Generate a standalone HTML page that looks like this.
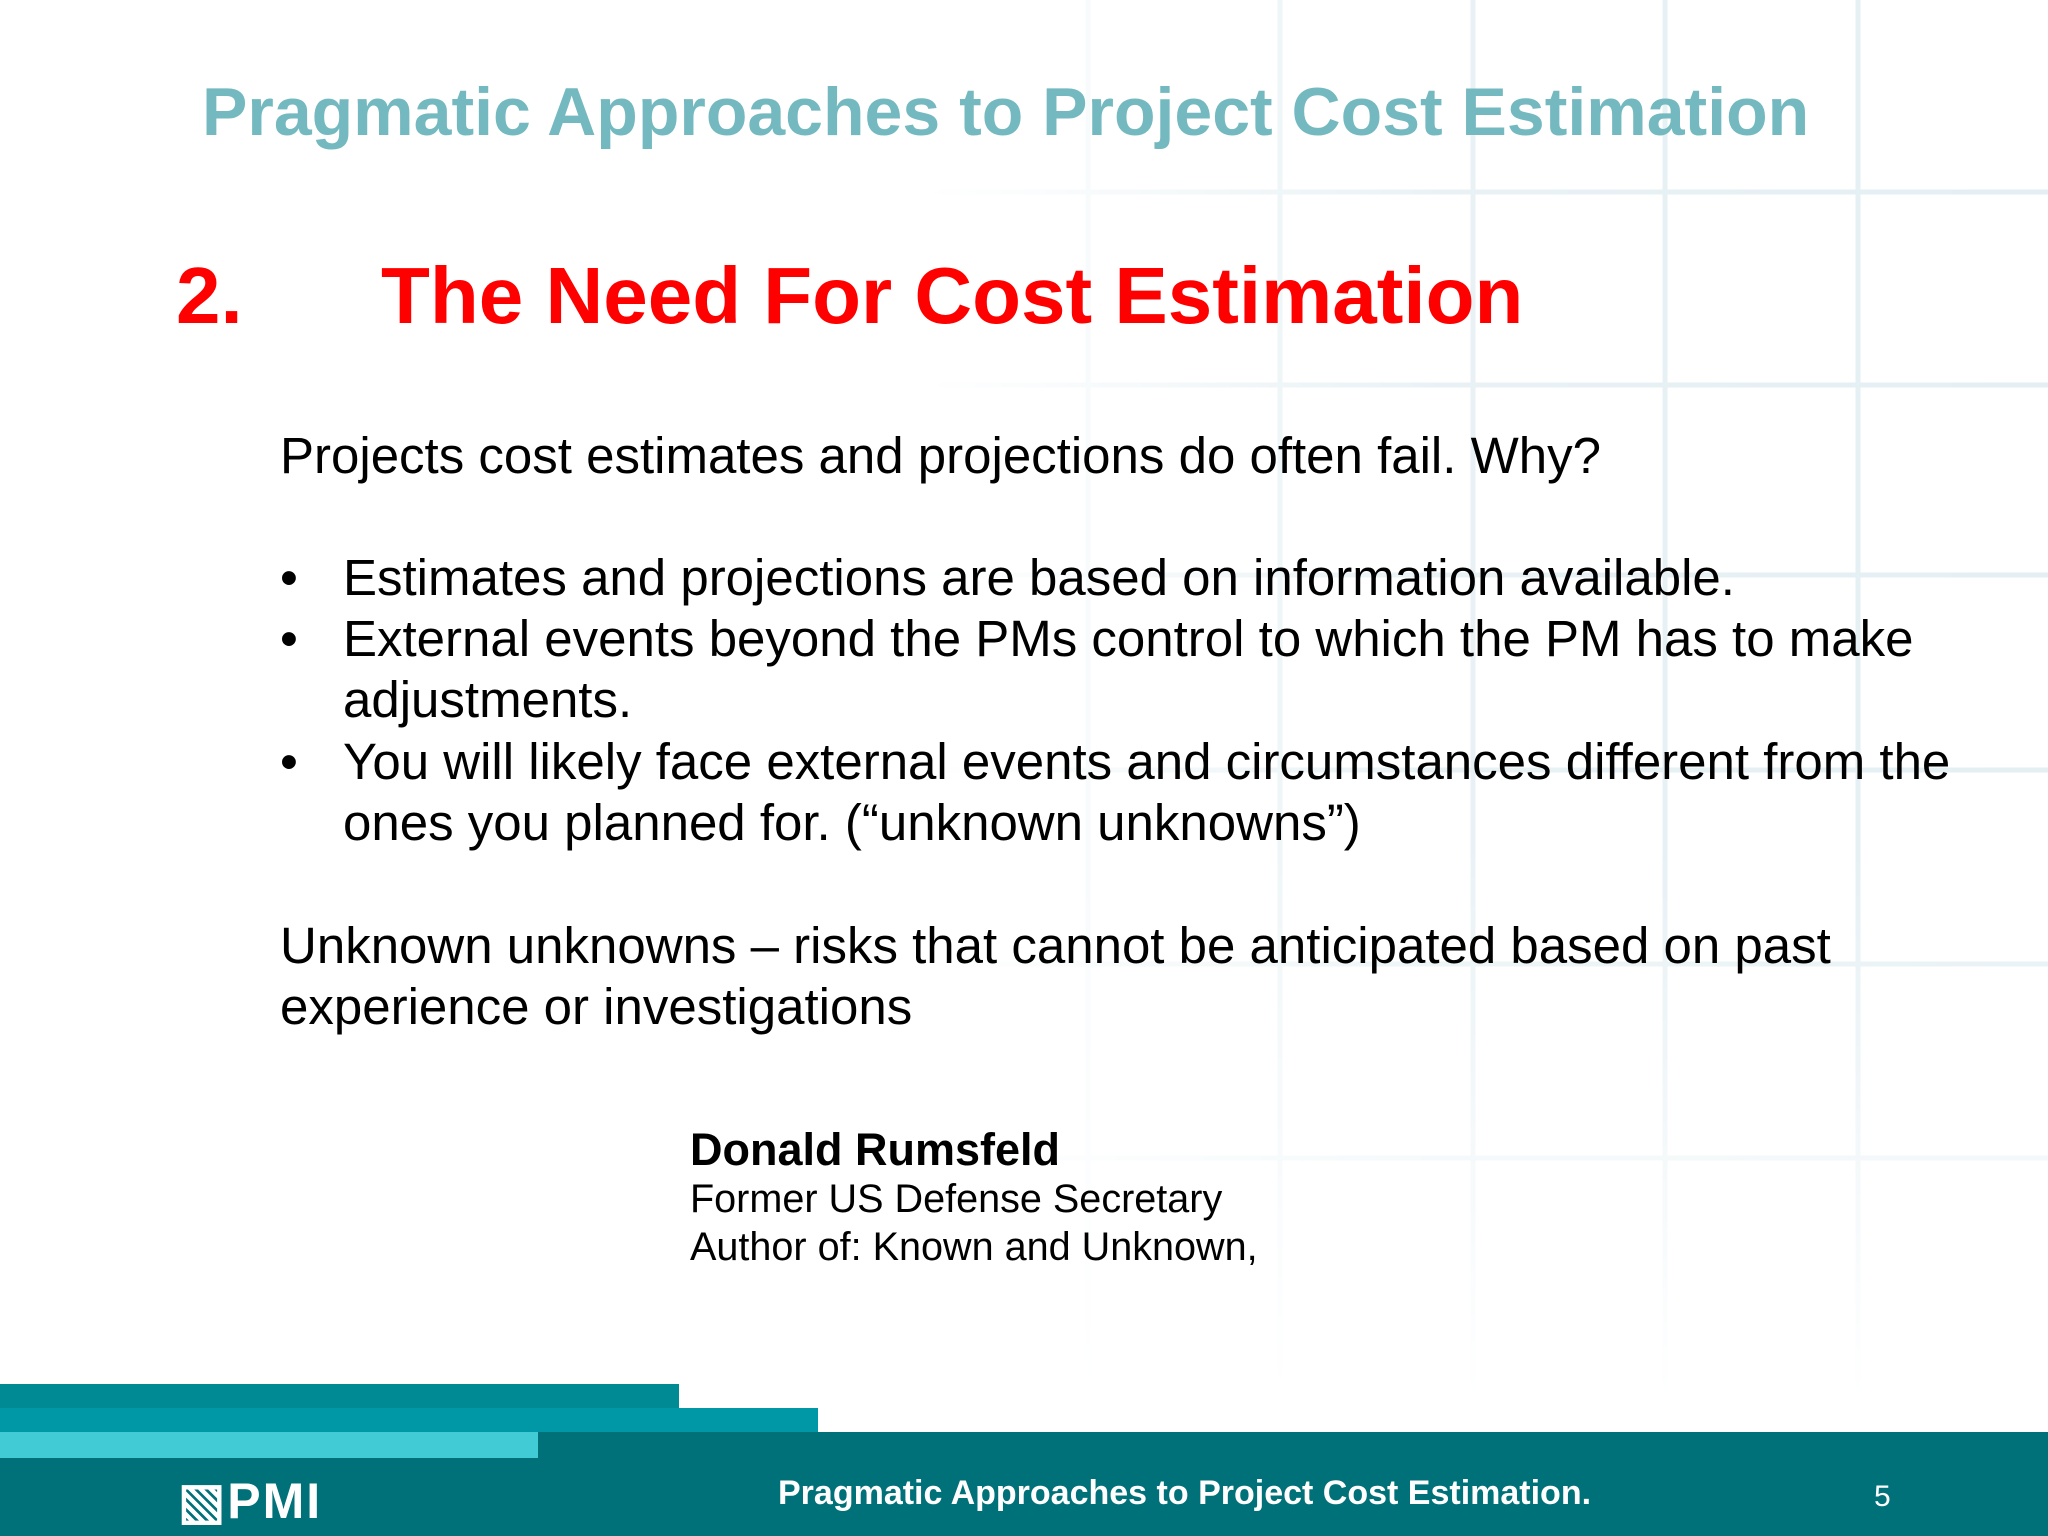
<!DOCTYPE html>
<html><head><meta charset="utf-8"><style>
html,body{margin:0;padding:0}
body{width:2048px;height:1536px;position:relative;overflow:hidden;background:#fff;font-family:"Liberation Sans",Arial,sans-serif}
.t{position:absolute;white-space:nowrap;line-height:1}
</style></head><body>
<svg style="position:absolute;left:0;top:0" width="2048" height="1400">
<defs><linearGradient id="fade" x1="0" x2="1" y1="0" y2="0">
<stop offset="0" stop-color="#fff" stop-opacity="1"/><stop offset="0.45" stop-color="#fff" stop-opacity="1"/><stop offset="0.7" stop-color="#fff" stop-opacity="0.2"/><stop offset="1" stop-color="#fff" stop-opacity="0"/></linearGradient>
<linearGradient id="vfade" x1="0" x2="0" y1="0" y2="1"><stop offset="0.6" stop-color="#fff" stop-opacity="0"/><stop offset="1" stop-color="#fff" stop-opacity="1"/></linearGradient></defs>
<g stroke="#e3eff3" stroke-width="5">
<line x1="896" y1="0" x2="896" y2="1400"/><line x1="1088" y1="0" x2="1088" y2="1400"/><line x1="1280" y1="0" x2="1280" y2="1400"/><line x1="1473" y1="0" x2="1473" y2="1400"/><line x1="1665" y1="0" x2="1665" y2="1400"/><line x1="1858" y1="0" x2="1858" y2="1400"/>
<line x1="0" y1="192" x2="2048" y2="192"/><line x1="0" y1="385" x2="2048" y2="385"/><line x1="0" y1="575" x2="2048" y2="575"/><line x1="0" y1="770" x2="2048" y2="770"/><line x1="0" y1="964" x2="2048" y2="964"/><line x1="0" y1="1158" x2="2048" y2="1158"/>
</g>
<rect width="2048" height="1400" fill="url(#fade)"/>
<rect width="2048" height="1400" fill="url(#vfade)"/>
</svg>
<div class="t" style="left:202px;top:78px;font-size:68px;font-weight:bold;color:#74b9c0">Pragmatic Approaches to Project Cost Estimation</div>
<div class="t" style="left:176px;top:256px;font-size:80px;font-weight:bold;color:#f00">2.</div>
<div class="t" style="left:381px;top:256px;font-size:80px;font-weight:bold;color:#f00">The Need For Cost Estimation</div>
<div style="position:absolute;left:280px;top:0;font-size:51px;color:#000">
<div class="t" style="top:430px;left:0">Projects cost estimates and projections do often fail. Why?</div>
<div class="t" style="top:552px;left:0">•</div><div class="t" style="top:552px;left:63px">Estimates and projections are based on information available.</div>
<div class="t" style="top:613px;left:0">•</div><div class="t" style="top:613px;left:63px">External events beyond the PMs control to which the PM has to make</div>
<div class="t" style="top:674px;left:63px">adjustments.</div>
<div class="t" style="top:736px;left:0">•</div><div class="t" style="top:736px;left:63px">You will likely face external events and circumstances different from the</div>
<div class="t" style="top:797px;left:63px">ones you planned for. (“unknown unknowns”)</div>
<div class="t" style="top:920px;left:0">Unknown unknowns – risks that cannot be anticipated based on past</div>
<div class="t" style="top:981px;left:0">experience or investigations</div>
</div>
<div class="t" style="left:690px;top:1127px;font-size:45px;font-weight:bold">Donald Rumsfeld</div>
<div class="t" style="left:690px;top:1180px;font-size:39.6px">Former US Defense Secretary</div>
<div class="t" style="left:690px;top:1228px;font-size:39.6px">Author of: Known and Unknown,</div>
<div style="position:absolute;left:0;top:1384px;width:679px;height:25px;background:#008a94"></div>
<div style="position:absolute;left:0;top:1408px;width:818px;height:25px;background:#0097a6"></div>
<div style="position:absolute;left:0;top:1432px;width:2048px;height:104px;background:#007178"></div>
<div style="position:absolute;left:0;top:1432px;width:538px;height:26px;background:#40cbd5"></div>
<div class="t" style="left:178px;top:1476px;font-size:50px;font-weight:bold;color:#fff;letter-spacing:2px">▧PMI</div>
<div class="t" style="left:778px;top:1476px;font-size:34px;font-weight:bold;color:#fff">Pragmatic Approaches to Project Cost Estimation.</div>
<div class="t" style="left:1874px;top:1482px;font-size:30px;color:#fff">5</div>
</body></html>
